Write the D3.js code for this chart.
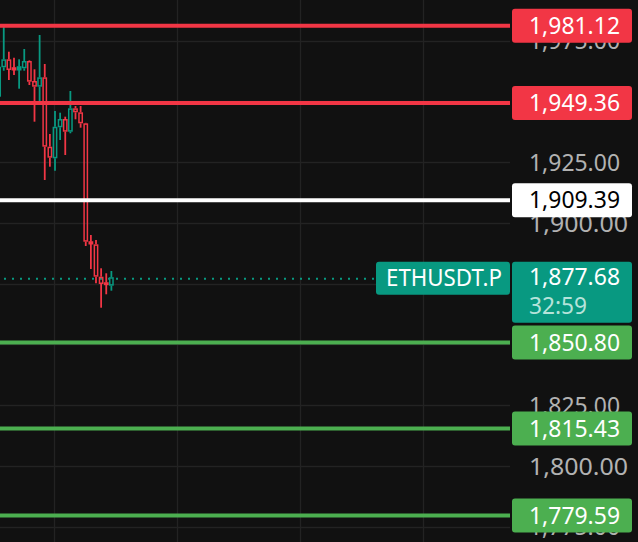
<!DOCTYPE html>
<html>
<head>
<meta charset="utf-8">
<script src="https://cdn.jsdelivr.net/npm/d3@7"></script>
<style>
  html, body { margin: 0; padding: 0; background: #111111; overflow: hidden; }
  svg { display: block; }
</style>
</head>
<body>
<svg id="chart" width="638" height="542"></svg>
<script>
// ---------------- DATA ----------------
const candleIndex = [1,2,3,4,5,6,7,8,9,10,11,12,13,14,15,16,17,18,19,20,21,22,23];
const opens  = [1951.95,1964.05,1967.35,1963.89,1962.94,1963.64,1966.65,1958.42,1956.07,1959.94,1931.38,1926.60,1939.36,1942.78,1937.55,1947.18,1945.53,1941.00,1892.28,1891.20,1877.88,1875.40,1874.18];
const highs  = [1964.60,1981.60,1970.47,1968.00,1967.35,1971.58,1966.90,1963.23,1977.35,1965.41,1936.60,1946.07,1945.37,1943.73,1954.30,1948.13,1948.13,1941.20,1895.04,1892.98,1881.34,1879.28,1880.23];
const lows   = [1951.50,1962.65,1958.83,1960.88,1955.25,1962.65,1956.77,1941.67,1949.49,1917.68,1923.15,1921.50,1934.14,1927.96,1936.90,1942.65,1939.20,1890.51,1881.05,1875.16,1865.12,1870.64,1872.12];
const closes = [1964.30,1967.35,1962.94,1962.94,1964.30,1966.65,1958.13,1956.07,1959.94,1931.38,1926.85,1939.60,1942.78,1937.55,1947.18,1945.53,1941.00,1892.28,1891.34,1877.88,1874.88,1874.60,1877.68];

const levelPrices = [1981.12, 1949.36, 1909.39, 1850.80, 1815.43, 1779.59];
const levelKinds  = ["resistance", "resistance", "pivot", "support", "support", "support"];

const axisTicks = [1975, 1950, 1925, 1900, 1875, 1850, 1825, 1800, 1775];
const timeGridIndex = [12, 36, 60, 84];

const symbolName = "ETHUSDT.P";
const lastPrice = 1877.68;
const countdown = "32:59";

// ---------------- LAYOUT ----------------
const W = 638, H = 542;
const plotRight = 510;
const boxX = 512, boxW = 120;
const BG = "#111111";
const GRID = "#232323";
const UP = "#089981", DOWN = "#f23645";
const kindColor = { resistance: "#f23645", pivot: "#ffffff", support: "#4caf50" };
const kindText  = { resistance: "#ffffff", pivot: "#000000", support: "#ffffff" };
const FONT = "'Noto Sans', 'DejaVu Sans', sans-serif";
const fmt = d3.format(",.2f");

const step = 5.125;
const x = d3.scaleLinear()
  .domain([12 - 55 / step, 12 + (plotRight - 55) / step])
  .range([0, plotRight]);
const y = d3.scaleLinear().domain([1975, 1775]).range([40.7, 526.7]);

const svg = d3.select("#chart");
svg.append("rect").attr("width", W).attr("height", H).attr("fill", BG);

// grid
const grid = svg.append("g");
grid.selectAll("line.h").data(axisTicks).join("line")
  .attr("x1", 0).attr("x2", plotRight)
  .attr("y1", d => Math.round(y(d)) + 0.5).attr("y2", d => Math.round(y(d)) + 0.5)
  .attr("stroke", GRID).attr("stroke-width", 1.3);
grid.selectAll("line.v").data(timeGridIndex).join("line")
  .attr("y1", 0).attr("y2", H)
  .attr("x1", d => Math.round(x(d)) - 0.5).attr("x2", d => Math.round(x(d)) - 0.5)
  .attr("stroke", GRID).attr("stroke-width", 1.3);

// axis labels (gray)
const axis = d3.axisRight(y).tickValues(axisTicks).tickSize(0).tickFormat(fmt);
const axisG = svg.append("g").attr("transform", `translate(${boxX + 17},0)`).call(axis);
axisG.select(".domain").remove();
axisG.selectAll("text")
  .attr("x", 0).attr("dy", "0.36em")
  .attr("fill", "#b2b2b2")
  .attr("font-family", FONT).attr("font-size", 23)
  .attr("text-anchor", "start")
  .attr("textLength", d => (d % 100 === 0 ? 99 : 91))
  .attr("lengthAdjust", "spacingAndGlyphs");

// last price dotted line
svg.append("line")
  .attr("x1", 4).attr("x2", 376)
  .attr("y1", y(lastPrice) + 1.5).attr("y2", y(lastPrice) + 1.5)
  .attr("stroke", UP).attr("stroke-width", 2)
  .attr("stroke-dasharray", "2 6");

// candles
const candles = candleIndex.map((t, i) => ({ t, o: opens[i], h: highs[i], l: lows[i], c: closes[i] }));
const bodyW = 4.8, sw = 1.5;
const cg = svg.append("g");
candles.forEach(d => {
  const cx = x(d.t);
  const col = d.c >= d.o ? UP : DOWN;
  const top = y(Math.max(d.o, d.c)), bot = y(Math.min(d.o, d.c));
  const g = cg.append("g");
  // wicks
  g.append("line").attr("x1", cx).attr("x2", cx).attr("y1", y(d.h)).attr("y2", top)
    .attr("stroke", col).attr("stroke-width", 1.8);
  g.append("line").attr("x1", cx).attr("x2", cx).attr("y1", bot).attr("y2", y(d.l))
    .attr("stroke", col).attr("stroke-width", 1.8);
  const hgt = bot - top;
  if (hgt <= 2 * sw + 0.5) {
    g.append("rect").attr("x", cx - bodyW / 2).attr("width", bodyW)
      .attr("y", top - 0.5).attr("height", Math.max(hgt + 1, 2))
      .attr("fill", col);
  } else {
    g.append("rect").attr("x", cx - bodyW / 2 + sw / 2).attr("width", bodyW - sw)
      .attr("y", top + sw / 2).attr("height", hgt - sw)
      .attr("fill", "none").attr("stroke", col).attr("stroke-width", sw);
  }
});

// level lines
const levels = levelPrices.map((p, i) => ({ p, kind: levelKinds[i] }));
svg.append("g").selectAll("line").data(levels).join("line")
  .attr("x1", 0).attr("x2", plotRight)
  .attr("y1", d => y(d.p)).attr("y2", d => y(d.p))
  .attr("stroke", d => kindColor[d.kind]).attr("stroke-width", 4);

// level labels
const lab = svg.append("g").selectAll("g").data(levels).join("g")
  .attr("transform", d => `translate(${boxX},${y(d.p)})`);
lab.append("rect").attr("x", 0).attr("y", -17).attr("width", boxW).attr("height", 34)
  .attr("rx", 3).attr("fill", d => kindColor[d.kind]);
lab.append("text").attr("x", 17).attr("y", 0).attr("dy", "0.36em")
  .attr("fill", d => kindText[d.kind])
  .attr("font-family", FONT).attr("font-size", 23)
  .attr("textLength", 91).attr("lengthAdjust", "spacingAndGlyphs")
  .text(d => fmt(d.p));

// symbol tag
const yp = y(lastPrice);
svg.append("rect").attr("x", 376).attr("y", yp - 15.5).attr("width", 134).attr("height", 33)
  .attr("rx", 3).attr("fill", UP);
svg.append("text").attr("x", 386).attr("y", yp + 1).attr("dy", "0.36em")
  .attr("fill", "#ffffff").attr("font-family", FONT).attr("font-size", 23)
  .attr("textLength", 116).attr("lengthAdjust", "spacingAndGlyphs")
  .text(symbolName);

// last price label with countdown
svg.append("rect").attr("x", boxX).attr("y", yp - 15.5).attr("width", boxW).attr("height", 61)
  .attr("rx", 3).attr("fill", UP);
svg.append("text").attr("x", boxX + 17).attr("y", yp).attr("dy", "0.36em")
  .attr("fill", "#ffffff").attr("font-family", FONT).attr("font-size", 23)
  .attr("textLength", 91).attr("lengthAdjust", "spacingAndGlyphs")
  .text(fmt(lastPrice));
svg.append("text").attr("x", boxX + 17).attr("y", yp + 28.5).attr("dy", "0.36em")
  .attr("fill", "#b5e3da").attr("font-family", FONT).attr("font-size", 23)
  .attr("textLength", 58).attr("lengthAdjust", "spacingAndGlyphs")
  .text(countdown);
</script>
</body>
</html>
